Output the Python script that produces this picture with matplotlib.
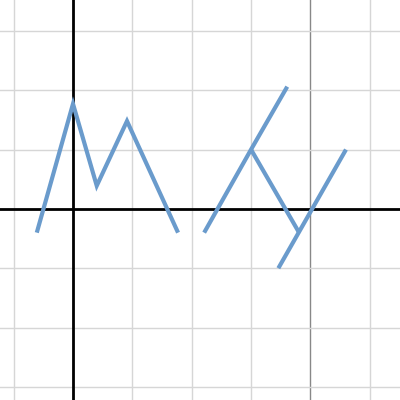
import numpy as np
import matplotlib
matplotlib.use('Agg')
import matplotlib.pyplot as plt

# stroke polylines (graph units)
m_x = [-0.61, 0.0, 0.40, 0.91, 1.77]
m_y = [-0.40, 1.77, 0.39, 1.48, -0.40]
y1_x = [2.21, 3.0, 3.61]
y1_y = [-0.40, 1.0, 2.06]
y2_x = [3.0, 3.81]
y2_y = [1.0, -0.40]
y3_x = [3.46, 4.60]
y3_y = [-1.0, 1.0]

fig = plt.figure(figsize=(4, 4), dpi=100)
ax = fig.add_axes([0, 0, 1, 1])
ax.set_xlim(-1.23, 5.51)
ax.set_ylim(-3.22, 3.52)

for g in range(-1, 6):
    ax.axvline(g, color='#888888' if g == 4 else '#d6d6d6', lw=1, zorder=0)
for g in range(-3, 4):
    ax.axhline(g, color='#d6d6d6', lw=1, zorder=0)
ax.axvline(0, color='black', lw=2, zorder=1)
ax.axhline(0, color='black', lw=2, zorder=1)

col = '#6a9bcc'
for xs, ys in [(m_x, m_y), (y1_x, y1_y), (y2_x, y2_y), (y3_x, y3_y)]:
    ax.plot(xs, ys, color=col, lw=3, solid_capstyle='butt', solid_joinstyle='miter', zorder=2)

ax.set_xticks([]); ax.set_yticks([])
for s in ax.spines.values():
    s.set_visible(False)
fig.savefig('out.png', dpi=100)
